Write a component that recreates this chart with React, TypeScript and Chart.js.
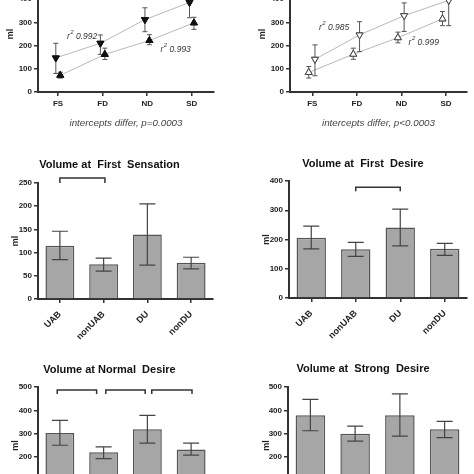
import React, { useEffect, useRef } from "react";
import { Chart, registerables } from "chart.js";

Chart.register(...registerables);

const FONT = "'Liberation Sans', Arial, sans-serif";
Chart.defaults.font.family = FONT;
Chart.defaults.color = "#222";

// ---------- data ----------
const stages = ["FS", "FD", "ND", "SD"];
const groups = ["UAB", "nonUAB", "DU", "nonDU"];

// Panel A (filled triangles)
const aDownMean = [147, 210, 312, 386];
const aDownLow = [80, 162, 260, 320];
const aDownHigh = [210, 246, 363, 452];
const aUpMean = [72, 162, 222, 298];
const aUpLow = [60, 140, 204, 270];
const aUpHigh = [85, 189, 247, 322];
const aR2 = ["0.992", "0.993"];
const aCaption = "intercepts differ, p=0.0003";

// Panel B (open triangles)
const bDownMean = [141, 246, 329, 395];
const bDownLow = [70, 174, 261, 286];
const bDownHigh = [203, 303, 384, 504];
const bUpMean = [84, 163, 234, 315];
const bUpLow = [60, 141, 212, 286];
const bUpHigh = [110, 189, 258, 347];
const bR2 = ["0.985", "0.999"];
const bCaption = "intercepts differ, p<0.0003";

// Bar panels
const fsMean = [115, 75, 139, 78];
const fsLow = [85, 60, 73, 65];
const fsHigh = [146, 88, 205, 90];

const fdMean = [206, 167, 241, 168];
const fdLow = [168, 142, 178, 146];
const fdHigh = [246, 190, 304, 187];

const ndMean = [303, 221, 319, 233];
const ndLow = [251, 194, 260, 209];
const ndHigh = [357, 244, 379, 260];

const sdMean = [379, 300, 379, 319];
const sdLow = [313, 269, 290, 284];
const sdHigh = [447, 333, 471, 353];

// ---------- plugins ----------
const errorBarPlugin = {
  id: "errbars",
  afterDatasetsDraw(chart: any) {
    const ctx = chart.ctx;
    const y = chart.scales.y;
    chart.data.datasets.forEach((ds: any, di: number) => {
      if (!ds.errLow) return;
      const meta = chart.getDatasetMeta(di);
      meta.data.forEach((el: any, i: number) => {
        const x = el.x;
        const yl = y.getPixelForValue(ds.errLow[i]);
        const yh = y.getPixelForValue(ds.errHigh[i]);
        const cw = ds.capWidth / 2;
        ctx.save();
        ctx.strokeStyle = ds.errColor;
        ctx.lineWidth = ds.errWidth || 1;
        ctx.beginPath();
        ctx.moveTo(x, yl);
        ctx.lineTo(x, yh);
        ctx.moveTo(x - cw, yl);
        ctx.lineTo(x + cw, yl);
        ctx.moveTo(x - cw, yh);
        ctx.lineTo(x + cw, yh);
        ctx.stroke();
        ctx.restore();
      });
      if (ds.redrawPoints) {
        meta.data.forEach((el: any) => el.draw(ctx, chart.chartArea));
      }
    });
  },
};

function makeBracketPlugin(brackets: { from: number; to: number; y: number; leg: number }[]) {
  return {
    id: "brackets",
    afterDraw(chart: any) {
      const { ctx, scales } = chart;
      ctx.save();
      ctx.strokeStyle = "#333";
      ctx.lineWidth = 1.5;
      brackets.forEach((b) => {
        const x1 = scales.x.getPixelForValue(b.from);
        const x2 = scales.x.getPixelForValue(b.to);
        const py = scales.y.getPixelForValue(b.y);
        ctx.beginPath();
        ctx.moveTo(x1, py + b.leg);
        ctx.lineTo(x1, py);
        ctx.lineTo(x2, py);
        ctx.lineTo(x2, py + b.leg);
        ctx.stroke();
      });
      ctx.restore();
    },
  };
}

function makeR2Plugin(labels: { x: number; y: number; text: string }[]) {
  return {
    id: "r2labels",
    afterDatasetsDraw(chart: any) {
      const { ctx, scales } = chart;
      ctx.save();
      ctx.fillStyle = "#333";
      ctx.textBaseline = "middle";
      ctx.textAlign = "left";
      labels.forEach((l) => {
        const px = scales.x.getPixelForValue(l.x);
        const py = scales.y.getPixelForValue(l.y);
        ctx.font = `italic 8.5px ${FONT}`;
        ctx.fillText("r", px, py);
        const rw = ctx.measureText("r").width;
        ctx.font = `italic 6px ${FONT}`;
        ctx.fillText("2", px + rw + 0.5, py - 4);
        const w2 = ctx.measureText("2").width;
        ctx.font = `italic 8.5px ${FONT}`;
        ctx.fillText(" " + l.text, px + rw + 0.5 + w2, py);
      });
      ctx.restore();
    },
  };
}

// ---------- configs ----------
const tickFont = { size: 8, weight: "bold" as const, family: FONT };
const catFont = { size: 9, weight: "bold" as const, family: FONT };

function yAxis(min: number, max: number, step: number, width: number, titlePad: number) {
  return {
    min,
    max,
    ticks: { stepSize: step, font: tickFont, color: "#222", padding: 2 },
    grid: { drawOnChartArea: false, tickLength: 4, color: "#333", lineWidth: 1.5 },
    border: { color: "#333", width: 2 },
    title: {
      display: true,
      text: "ml",
      font: { size: 9, weight: "bold" as const, family: FONT },
      color: "#222",
      padding: { top: titlePad, bottom: 0 },
    },
    afterFit: (s: any) => {
      s.width = width;
    },
  };
}

function lineConfig(p: any) {
  const mk = (mean: number[], low: number[], high: number[], off: number, down: boolean) => ({
    data: mean.map((v, i) => ({ x: i + 1 + off, y: v })),
    errLow: low,
    errHigh: high,
    capWidth: 5,
    errColor: "#555",
    redrawPoints: true,
    borderColor: "#b8b8b8",
    borderWidth: 1,
    pointStyle: "triangle",
    rotation: down ? 180 : 0,
    pointRadius: 4,
    pointBackgroundColor: p.open ? "#ffffff" : "#111111",
    pointBorderColor: p.open ? "#444" : "#111111",
    pointBorderWidth: 1,
    fill: false,
  });
  return {
    type: "line",
    data: {
      datasets: [
        mk(p.downMean, p.downLow, p.downHigh, p.downOff, true),
        mk(p.upMean, p.upLow, p.upHigh, p.upOff, false),
      ],
    },
    options: {
      animation: false,
      responsive: true,
      maintainAspectRatio: false,
      layout: { padding: { top: 16, right: p.padRight, left: 0, bottom: 0 } },
      plugins: { legend: { display: false }, tooltip: { enabled: false } },
      scales: {
        x: {
          type: "linear",
          min: p.xMin,
          max: p.xMax,
          afterBuildTicks: (s: any) => {
            s.ticks = stages.map((_, i) => ({ value: i + 1 }));
          },
          ticks: {
            callback: (v: any) => stages[Math.round(v) - 1],
            font: tickFont,
            color: "#222",
            padding: 3,
            autoSkip: false,
            maxRotation: 0,
          },
          grid: { drawOnChartArea: false, tickLength: 4, color: "#333", lineWidth: 1.5 },
          border: { color: "#333", width: 2 },
          title: {
            display: true,
            text: p.caption,
            font: { size: 9.8, style: "italic" as const, family: FONT },
            color: "#444",
            padding: { top: 0, bottom: 3 },
          },
          afterFit: (s: any) => {
            s.height = 40;
          },
        },
        y: yAxis(0, 500, 100, p.yWidth, 5),
      },
    },
    plugins: [errorBarPlugin, makeR2Plugin(p.r2)],
  };
}

function barConfig(p: any) {
  return {
    type: "bar",
    data: {
      labels: groups,
      datasets: [
        {
          data: p.mean,
          errLow: p.low,
          errHigh: p.high,
          capWidth: 16,
          errColor: "#444",
          errWidth: 1.2,
          backgroundColor: "#a6a6a6",
          borderColor: "#555",
          borderWidth: 1.5,
          barPercentage: 0.66,
          categoryPercentage: 1,
        },
      ],
    },
    options: {
      animation: false,
      responsive: true,
      maintainAspectRatio: false,
      layout: { padding: { top: 0, right: p.padRight, left: 0, bottom: 0 } },
      plugins: {
        legend: { display: false },
        tooltip: { enabled: false },
        title: {
          display: true,
          text: p.title,
          font: { size: 11, weight: "bold" as const, family: FONT },
          color: "#111",
          padding: { top: p.tTop, bottom: p.tBottom },
        },
      },
      scales: {
        x: {
          grid: { offset: false, drawOnChartArea: false, tickLength: 4, color: "#333", lineWidth: 1.5 },
          border: { color: "#333", width: 2 },
          ticks: { minRotation: 45, maxRotation: 45, font: catFont, color: "#222", padding: 6, autoSkip: false },
          afterFit: (s: any) => {
            s.height = 44;
          },
        },
        y: yAxis(p.min, p.max, p.step, p.yWidth, p.mlPad),
      },
    },
    plugins: [errorBarPlugin, makeBracketPlugin(p.brackets)],
  };
}

// ---------- components ----------
function ChartBox({ left, top, width, height, config }: any) {
  const ref = useRef<HTMLCanvasElement>(null);
  useEffect(() => {
    const chart = new Chart(ref.current as HTMLCanvasElement, config() as any);
    return () => chart.destroy();
  }, []);
  return (
    <div style={{ position: "absolute", left, top, width, height }}>
      <canvas ref={ref} />
    </div>
  );
}

export default function App() {
  return (
    <div
      style={{
        position: "fixed",
        left: 0,
        top: 0,
        width: 474,
        height: 474,
        overflow: "hidden",
        background: "#fff",
      }}
    >
      <ChartBox
        left={0}
        top={-40}
        width={222}
        height={172}
        config={() =>
          lineConfig({
            downMean: aDownMean, downLow: aDownLow, downHigh: aDownHigh,
            upMean: aUpMean, upLow: aUpLow, upHigh: aUpHigh,
            downOff: -0.05, upOff: 0.05, open: false,
            xMin: 0.55, xMax: 4.5, padRight: 8, yWidth: 38,
            caption: aCaption,
            r2: [
              { x: 1.2, y: 238, text: aR2[0] },
              { x: 3.3, y: 182, text: aR2[1] },
            ],
          })
        }
      />
      <ChartBox
        left={252}
        top={-40}
        width={222}
        height={172}
        config={() =>
          lineConfig({
            downMean: bDownMean, downLow: bDownLow, downHigh: bDownHigh,
            upMean: bUpMean, upLow: bUpLow, upHigh: bUpHigh,
            downOff: 0.06, upOff: -0.08, open: true,
            xMin: 0.5, xMax: 4.47, padRight: 7, yWidth: 38,
            caption: bCaption,
            r2: [
              { x: 1.15, y: 277, text: bR2[0] },
              { x: 3.16, y: 212, text: bR2[1] },
            ],
          })
        }
      />
      <ChartBox
        left={6}
        top={150}
        width={216}
        height={193}
        config={() =>
          barConfig({
            title: "Volume at  First  Sensation",
            mean: fsMean, low: fsLow, high: fsHigh,
            min: 0, max: 250, step: 50,
            yWidth: 32, mlPad: 4, padRight: 9, tTop: 8.4, tBottom: 11.4,
            brackets: [{ from: 0, to: 1.03, y: 261, leg: 5 }],
          })
        }
      />
      <ChartBox
        left={259}
        top={150}
        width={215}
        height={192}
        config={() =>
          barConfig({
            title: "Volume at  First  Desire",
            mean: fdMean, low: fdLow, high: fdHigh,
            min: 0, max: 400, step: 100,
            yWidth: 30, mlPad: 2, padRight: 7, tTop: 7.4, tBottom: 10.4,
            brackets: [{ from: 1, to: 2, y: 379, leg: 4 }],
          })
        }
      />
      <ChartBox
        left={6}
        top={355}
        width={216}
        height={193}
        config={() =>
          barConfig({
            title: "Volume at Normal  Desire",
            mean: ndMean, low: ndLow, high: ndHigh,
            min: 0, max: 500, step: 100,
            yWidth: 32, mlPad: 4, padRight: 9, tTop: 8.4, tBottom: 10.4,
            brackets: [
              { from: -0.06, to: 0.84, y: 487, leg: 4 },
              { from: 1.05, to: 1.95, y: 487, leg: 4 },
              { from: 2.1, to: 3.02, y: 487, leg: 4 },
            ],
          })
        }
      />
      <ChartBox
        left={259}
        top={355}
        width={215}
        height={193}
        config={() =>
          barConfig({
            title: "Volume at  Strong  Desire",
            mean: sdMean, low: sdLow, high: sdHigh,
            min: 0, max: 500, step: 100,
            yWidth: 29, mlPad: 2, padRight: 7, tTop: 7.4, tBottom: 11.4,
            brackets: [],
          })
        }
      />
    </div>
  );
}
